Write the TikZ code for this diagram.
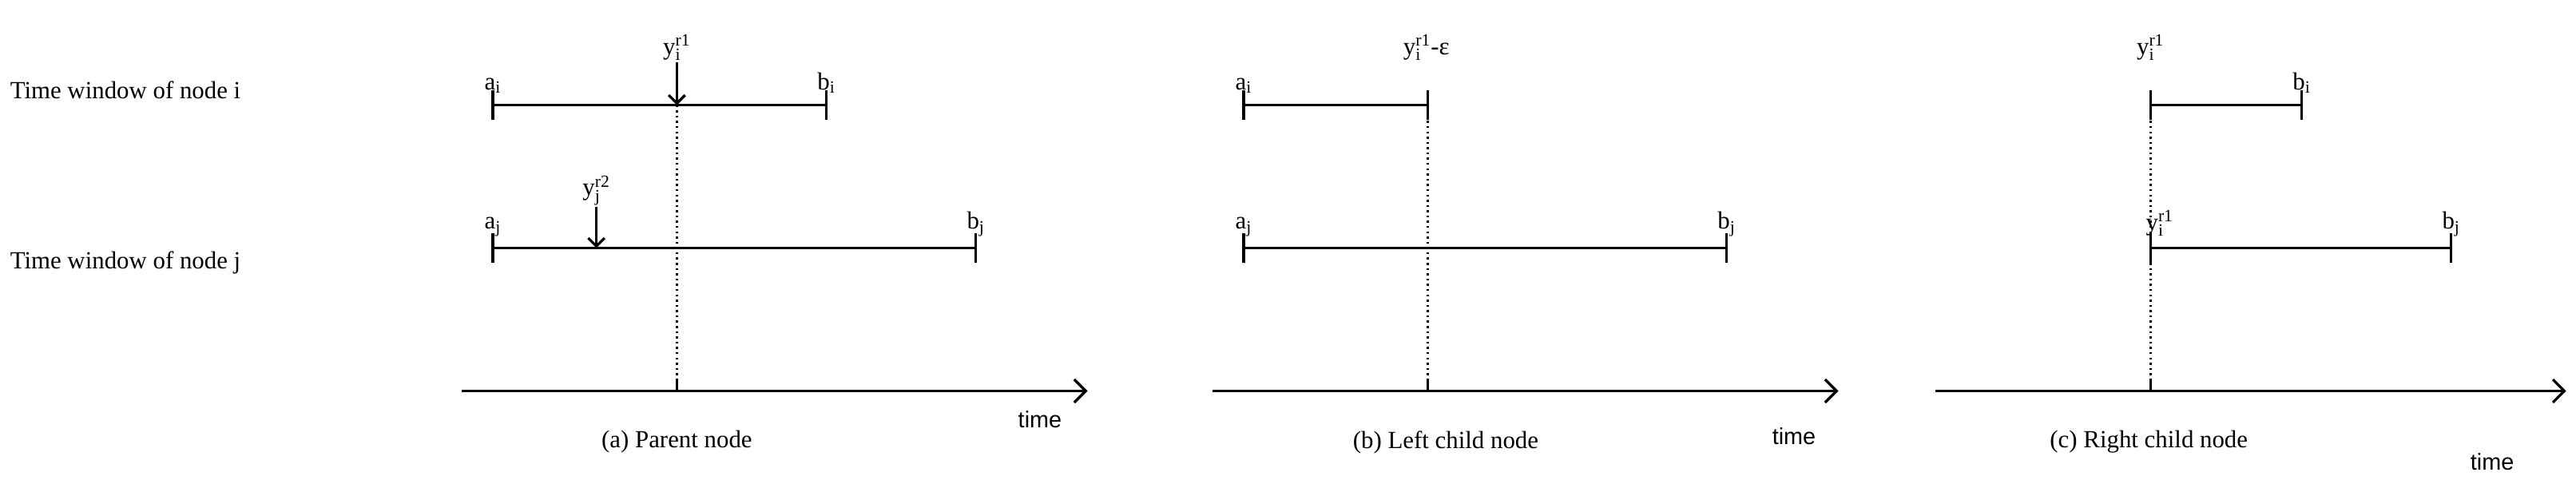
\documentclass[tikz,border=0pt]{standalone}
\usepackage{fontspec}
\setmainfont{Liberation Serif}
\setsansfont{Liberation Sans}
\usetikzlibrary{arrows.meta}
\begin{document}
\begin{tikzpicture}[x=1pt,y=-1pt,
  seg/.style={line width=1.6pt},
  lab/.style={font=\fontsize{15}{15}\selectfont,inner sep=1pt},
  captext/.style={font=\fontsize{15}{15}\selectfont,inner sep=0pt},
  tm/.style={font=\sffamily\fontsize{14}{14}\selectfont,inner sep=0pt},
  dot/.style={dotted,line width=1.2pt},
  ax/.style={line width=1.6pt,-{Straight Barb[length=7pt,width=14pt]}}]
\useasboundingbox (0,0) rectangle (1568,301.5);
\node[lab,anchor=west] (ri) at (5,55) {Time window of node i};
\node[lab,anchor=west] (rj) at (5,160) {Time window of node j};
% ---------- (a)
\foreach \n/\xa/\xb/\y in {ai/300/503/64, aj/300/594/151}{
  \coordinate (\n L) at (\xa,\y); \coordinate (\n R) at (\xb,\y);
  \draw[seg] (\n L) -- (\n R);
  \draw[seg] (\xa,\y-9) -- (\xa,\y+9);
  \draw[seg] (\xb,\y-9) -- (\xb,\y+9);}
\node[lab,anchor=south] at (aiL) [yshift=6pt] {a$_{\mathrm{i}}$};
\node[lab,anchor=south] at (aiR) [yshift=6pt] {b$_{\mathrm{i}}$};
\node[lab,anchor=south] at (ajL) [yshift=6pt] {a$_{\mathrm{j}}$};
\node[lab,anchor=south] at (ajR) [yshift=6pt] {b$_{\mathrm{j}}$};
\coordinate (ay1) at (412,64); \coordinate (ay1t) at (412,38);
\draw[seg,-{Straight Barb[length=5pt,width=10pt]}] (ay1t) -- (ay1);
\node[lab,anchor=south] at (ay1t) {y$_{\mathrm{i}}^{\mathrm{r1}}$};
\coordinate (ay2) at (363,151); \coordinate (ay2t) at (363,126);
\draw[seg,-{Straight Barb[length=5pt,width=10pt]}] (ay2t) -- (ay2);
\node[lab,anchor=south] at (ay2t) {y$_{\mathrm{j}}^{\mathrm{r2}}$};
\coordinate (aaxL) at (281,238); \coordinate (aaxR) at (662,238);
\draw[ax] (aaxL) -- (aaxR);
\coordinate (atk) at (412,238);
\draw[dot] (ay1) -- (atk);
\draw[line width=1.2pt] (412,231) -- (atk);
\node[tm,anchor=north] at (633,250) {time};
\node[captext,anchor=north] at (412,262) {(a) Parent node};
% ---------- (b)
\foreach \n/\xa/\xb/\y in {bi/757/869/64, bj/757/1051/151}{
  \coordinate (\n L) at (\xa,\y); \coordinate (\n R) at (\xb,\y);
  \draw[seg] (\n L) -- (\n R);
  \draw[seg] (\xa,\y-9) -- (\xa,\y+9);
  \draw[seg] (\xb,\y-9) -- (\xb,\y+9);}
\node[lab,anchor=south] at (biL) [yshift=6pt] {a$_{\mathrm{i}}$};
\node[lab,anchor=south] at (bjL) [yshift=6pt] {a$_{\mathrm{j}}$};
\node[lab,anchor=south] at (bjR) [yshift=6pt] {b$_{\mathrm{j}}$};
\node[lab,anchor=south west] at (853,38) {y$_{\mathrm{i}}^{\mathrm{r1}}$-ε};
\coordinate (baxL) at (738,238); \coordinate (baxR) at (1119,238);
\draw[ax] (baxL) -- (baxR);
\coordinate (btk) at (869,238);
\draw[dot] (biR) -- (btk);
\draw[line width=1.2pt] (869,231) -- (btk);
\node[tm,anchor=north] at (1092,260) {time};
\node[captext,anchor=north] at (880,262) {(b) Left child node};
% ---------- (c)
\foreach \n/\xa/\xb/\y in {ci/1309/1401/64, cj/1309/1492/151}{
  \coordinate (\n L) at (\xa,\y); \coordinate (\n R) at (\xb,\y);
  \draw[seg] (\n L) -- (\n R);
  \draw[seg] (\xa,\y-9) -- (\xa,\y+9);
  \draw[seg] (\xb,\y-9) -- (\xb,\y+9);}
\node[lab,anchor=south] at (1309,38) {y$_{\mathrm{i}}^{\mathrm{r1}}$};
\node[lab,anchor=south] at (ciR) [yshift=6pt] {b$_{\mathrm{i}}$};
\node[lab,anchor=south west] at (1305,145) {y$_{\mathrm{i}}^{\mathrm{r1}}$};
\node[lab,anchor=south] at (cjR) [yshift=6pt] {b$_{\mathrm{j}}$};
\coordinate (caxL) at (1178,238); \coordinate (caxR) at (1562,238);
\draw[ax] (caxL) -- (caxR);
\coordinate (ctk) at (1309,238);
\draw[dot] (ciL) -- (ctk);
\draw[line width=1.2pt] (1309,231) -- (ctk);
\node[tm,anchor=north] at (1517,276) {time};
\node[captext,anchor=north] at (1308,262) {(c) Right child node};
\end{tikzpicture}
\end{document}
